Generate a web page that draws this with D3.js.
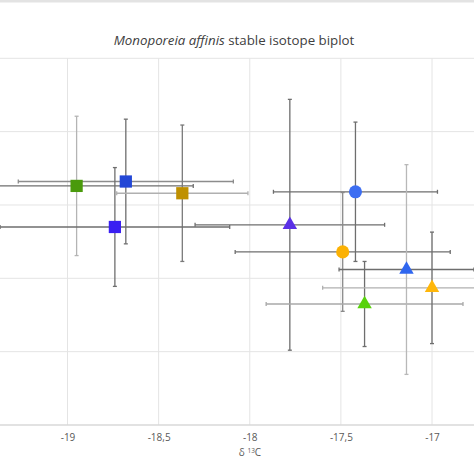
<!DOCTYPE html>
<html>
<head>
<meta charset="utf-8">
<script src="https://cdn.jsdelivr.net/npm/d3@7"></script>
<style>
  body { margin: 0; background: #fff; }
  svg { display: block; font-family: "Open Sans", "Liberation Sans", sans-serif; }
</style>
</head>
<body>
<div class="chart"></div>
<script>
// series (delta 13C, delta 15N, with +/- errors)
var names  = ['sq-green', 'sq-blue', 'sq-gold', 'sq-violet', 'tri-violet', 'ci-blue', 'ci-gold', 'tri-green', 'tri-blue', 'tri-gold'];
var shapes = ['square', 'square', 'square', 'square', 'triangle', 'circle', 'circle', 'triangle', 'triangle', 'triangle'];
var d13C   = [-18.95, -18.68, -18.37, -18.74, -17.78, -17.42, -17.49, -17.37, -17.14, -17.00];
var d15N   = [9.26, 9.32, 9.16, 8.70, 8.73, 9.18, 8.36, 7.65, 8.12, 7.87];
var xErr   = [0.64, 0.59, 0.36, 0.63, 0.52, 0.45, 0.59, 0.54, 0.37, 0.60];
var yErr   = [0.95, 0.85, 0.93, 0.81, 1.71, 0.95, 0.81, 0.58, 1.43, 0.76];
var xTicks = [-19, -18.5, -18, -17.5, -17];
var yGrid  = [6, 7, 8, 9, 10, 11];

var colors = ['#4a9a0c', '#2347d6', '#bf9000', '#3a1ff2', '#5a30e6', '#3d6ef2', '#fbb104', '#58d20c', '#2f66ef', '#ffb70a'];
var hShade = ['#6e6e6e', '#8c8c8c', '#b0b0b0', '#6e6e6e', '#6e6e6e', '#6e6e6e', '#6e6e6e', '#a8a8a8', '#6e6e6e', '#b0b0b0'];
var vShade = ['#b4b4b4', '#6e6e6e', '#7a7a7a', '#6e6e6e', '#6e6e6e', '#6e6e6e', '#8a8a8a', '#6e6e6e', '#b8b8b8', '#6e6e6e'];

var W = 474, H = 474;
var plotTop = 58.3, plotBottom = 425;

var svg = d3.select('.chart').append('svg')
            .attr('width', W)
            .attr('height', H);

svg.append('rect').attr('x', 0).attr('y', 0).attr('width', W).attr('height', 2.5).attr('fill', '#e3e3e3');

var x = d3.scaleLinear().domain([-19, -17]).range([67.5, 432]);
var y = d3.scaleLinear().domain([6, 11]).range([plotBottom, plotTop]);

// grid
svg.append('g').selectAll('line')
    .data(xTicks)
    .enter().append('line')
      .attr('x1', function(d){ return x(d); })
      .attr('x2', function(d){ return x(d); })
      .attr('y1', plotTop)
      .attr('y2', plotBottom)
      .attr('stroke', '#e4e4e4')
      .attr('stroke-width', 1);

svg.append('g').selectAll('line')
    .data(yGrid.slice(1))
    .enter().append('line')
      .attr('x1', 0)
      .attr('x2', W)
      .attr('y1', function(d){ return y(d); })
      .attr('y2', function(d){ return y(d); })
      .attr('stroke', '#e4e4e4')
      .attr('stroke-width', 1);

// x axis
var xAxis = d3.axisBottom(x)
    .tickValues(xTicks)
    .tickSize(0)
    .tickPadding(9)
    .tickFormat(function(d){ return String(d).replace('.', ','); });

var gx = svg.append('g')
    .attr('transform', 'translate(0,' + plotBottom + ')')
    .call(xAxis);
gx.select('.domain').remove();
gx.selectAll('text').attr('fill', '#595959').attr('font-size', 10).attr('font-family', '"Open Sans", sans-serif');

svg.append('line')
   .attr('x1', 0).attr('x2', W)
   .attr('y1', plotBottom).attr('y2', plotBottom)
   .attr('stroke', '#d9d9d9').attr('stroke-width', 1.5);

var xt = svg.append('text')
   .attr('x', 250).attr('y', 456)
   .attr('text-anchor', 'middle')
   .attr('fill', '#595959')
   .attr('font-size', 10);
xt.append('tspan').text('δ ');
xt.append('tspan').attr('font-size', 6.5).attr('dy', -3.5).text('13');
xt.append('tspan').attr('dy', 3.5).text('C');

// title
var title = svg.append('text')
   .attr('x', 234).attr('y', 45)
   .attr('text-anchor', 'middle')
   .attr('fill', '#404040')
   .attr('font-size', 13.3);
title.append('tspan').attr('font-style', 'italic').text('Monoporeia affinis');
title.append('tspan').text(' stable isotope biplot');

// error bars
var idx = d3.range(names.length);
var bars = svg.append('g').selectAll('g')
    .data(idx)
    .enter().append('g');

bars.append('line')
    .attr('x1', function(i){ return x(d13C[i] - xErr[i]); })
    .attr('x2', function(i){ return x(d13C[i] + xErr[i]); })
    .attr('y1', function(i){ return y(d15N[i]); })
    .attr('y2', function(i){ return y(d15N[i]); })
    .attr('stroke', function(i){ return hShade[i]; })
    .attr('stroke-width', 1.3);

bars.append('line')
    .attr('x1', function(i){ return x(d13C[i]); })
    .attr('x2', function(i){ return x(d13C[i]); })
    .attr('y1', function(i){ return y(d15N[i] + yErr[i]); })
    .attr('y2', function(i){ return y(d15N[i] - yErr[i]); })
    .attr('stroke', function(i){ return vShade[i]; })
    .attr('stroke-width', 1.3);

// caps
[-1, 1].forEach(function(s){
  bars.append('line')
      .attr('x1', function(i){ return x(d13C[i] + s * xErr[i]); })
      .attr('x2', function(i){ return x(d13C[i] + s * xErr[i]); })
      .attr('y1', function(i){ return y(d15N[i]) - 2; })
      .attr('y2', function(i){ return y(d15N[i]) + 2; })
      .attr('stroke', function(i){ return hShade[i]; })
      .attr('stroke-width', 1.3);
  bars.append('line')
      .attr('x1', function(i){ return x(d13C[i]) - 2; })
      .attr('x2', function(i){ return x(d13C[i]) + 2; })
      .attr('y1', function(i){ return y(d15N[i] + s * yErr[i]); })
      .attr('y2', function(i){ return y(d15N[i] + s * yErr[i]); })
      .attr('stroke', function(i){ return vShade[i]; })
      .attr('stroke-width', 1.3);
});

// markers
var symbolType = { square: d3.symbolSquare, circle: d3.symbolCircle, triangle: d3.symbolTriangle };
var symbolSize = { square: 150, circle: 135, triangle: 90 };

svg.append('g').selectAll('path')
    .data(idx)
    .enter().append('path')
      .attr('d', function(i){ return d3.symbol().type(symbolType[shapes[i]]).size(symbolSize[shapes[i]])(); })
      .attr('transform', function(i){ return 'translate(' + x(d13C[i]) + ',' + y(d15N[i]) + ')'; })
      .attr('fill', function(i){ return colors[i]; })
      .append('title').text(function(i){ return names[i]; });
</script>
</body>
</html>
